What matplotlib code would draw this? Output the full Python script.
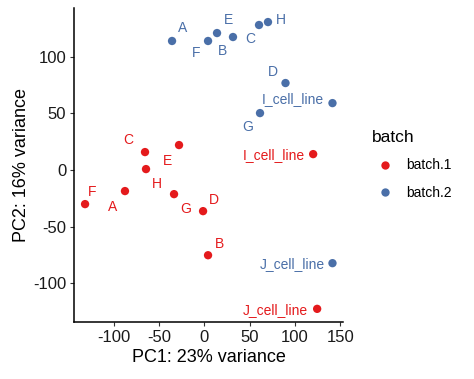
import matplotlib
matplotlib.use("Agg")
import matplotlib.pyplot as plt
from matplotlib.lines import Line2D

plt.rcParams['font.family'] = ['Liberation Sans', 'DejaVu Sans']
plt.rcParams['axes.unicode_minus'] = False

# ---- data ----
samples = ["A", "B", "C", "D", "E", "F", "G", "H", "I_cell_line", "J_cell_line"]
pc1_batch1 = [-87.5, 4.1, -65.4, -1.4, -27.9, -131.5, -33.4, -64.3, 120.0, 124.4]
pc2_batch1 = [-18.5, -75.1, 15.9, -36.2, 22.1, -30.0, -21.2, 0.9, 14.1, -122.4]
pc1_batch2 = [-35.6, 31.6, 60.3, 89.5, 14.0, 4.1, 61.4, 70.2, 141.3, 141.3]
pc2_batch2 = [113.9, 117.4, 128.0, 76.8, 120.9, 113.9, 50.3, 130.6, 59.1, -82.1]
batches = ["batch.1", "batch.2"]
x_ticks = [-100, -50, 0, 50, 100, 150]
y_ticks = [-100, -50, 0, 50, 100]

# ---- style / label placement (offsets in points, ha) ----
colors = {"batch.1": "#E41A1C", "batch.2": "#4A6FA8"}
off1 = [(-8.6, -11.5, 'center'), (8.6, 7.9, 'center'), (-12.2, 8.6, 'center'),
        (7.9, 7.9, 'center'), (-8.6, -11.5, 'center'), (5.0, 8.6, 'center'),
        (8.6, -10.8, 'center'), (7.9, -10.8, 'center'), (-5.8, -0.7, 'right'),
        (-6.5, -0.5, 'right')]
off2 = [(7.9, 9.4, 'center'), (-7.9, -10.1, 'center'), (-6.5, -10.1, 'center'),
        (-9.4, 7.9, 'center'), (8.6, 9.4, 'center'), (-8.6, -8.6, 'center'),
        (-8.6, -10.1, 'center'), (9.4, 1.4, 'center'), (-6.5, 2.9, 'right'),
        (-5.8, -0.5, 'right')]

fig = plt.figure(figsize=(4.74, 3.79), dpi=100)
ax = fig.add_axes([74 / 474, 1 - 322 / 379, (343 - 74) / 474, (322 - 8) / 379])

for b, xs, ys, offs in [("batch.1", pc1_batch1, pc2_batch1, off1),
                        ("batch.2", pc1_batch2, pc2_batch2, off2)]:
    ax.scatter(xs, ys, s=36, color=colors[b], edgecolors='none', zorder=3)
    for name, x, y, (dx, dy, ha) in zip(samples, xs, ys, offs):
        ax.annotate(name, (x, y), xytext=(dx, dy), textcoords='offset points',
                    ha=ha, va='center', fontsize=10, color=colors[b])

ax.set_xlim(-143.7, 152.9)
ax.set_ylim(-134, 143)
ax.set_xticks(x_ticks)
ax.set_yticks(y_ticks)
ax.tick_params(labelsize=12, length=3, width=0.8, colors='#333333', labelcolor='#1a1a1a', pad=2.5)
for s in ['top', 'right']:
    ax.spines[s].set_visible(False)
for s in ['left', 'bottom']:
    ax.spines[s].set_linewidth(1.1)
ax.set_xlabel("PC1: 23% variance", fontsize=13, labelpad=3.5)
ax.set_ylabel("PC2: 16% variance", fontsize=13, labelpad=2.5)

handles = [Line2D([], [], marker='o', linestyle='none', markersize=6,
                  markerfacecolor=colors[b], markeredgecolor='none') for b in batches]
leg = fig.legend(handles, batches, title="batch", loc='upper left',
                 bbox_to_anchor=(359 / 474, 1 - 117 / 379), frameon=False,
                 fontsize=10, title_fontsize=12.5, handletextpad=0.5,
                 labelspacing=1.0, alignment='left')

fig.savefig("out.png", dpi=100)
